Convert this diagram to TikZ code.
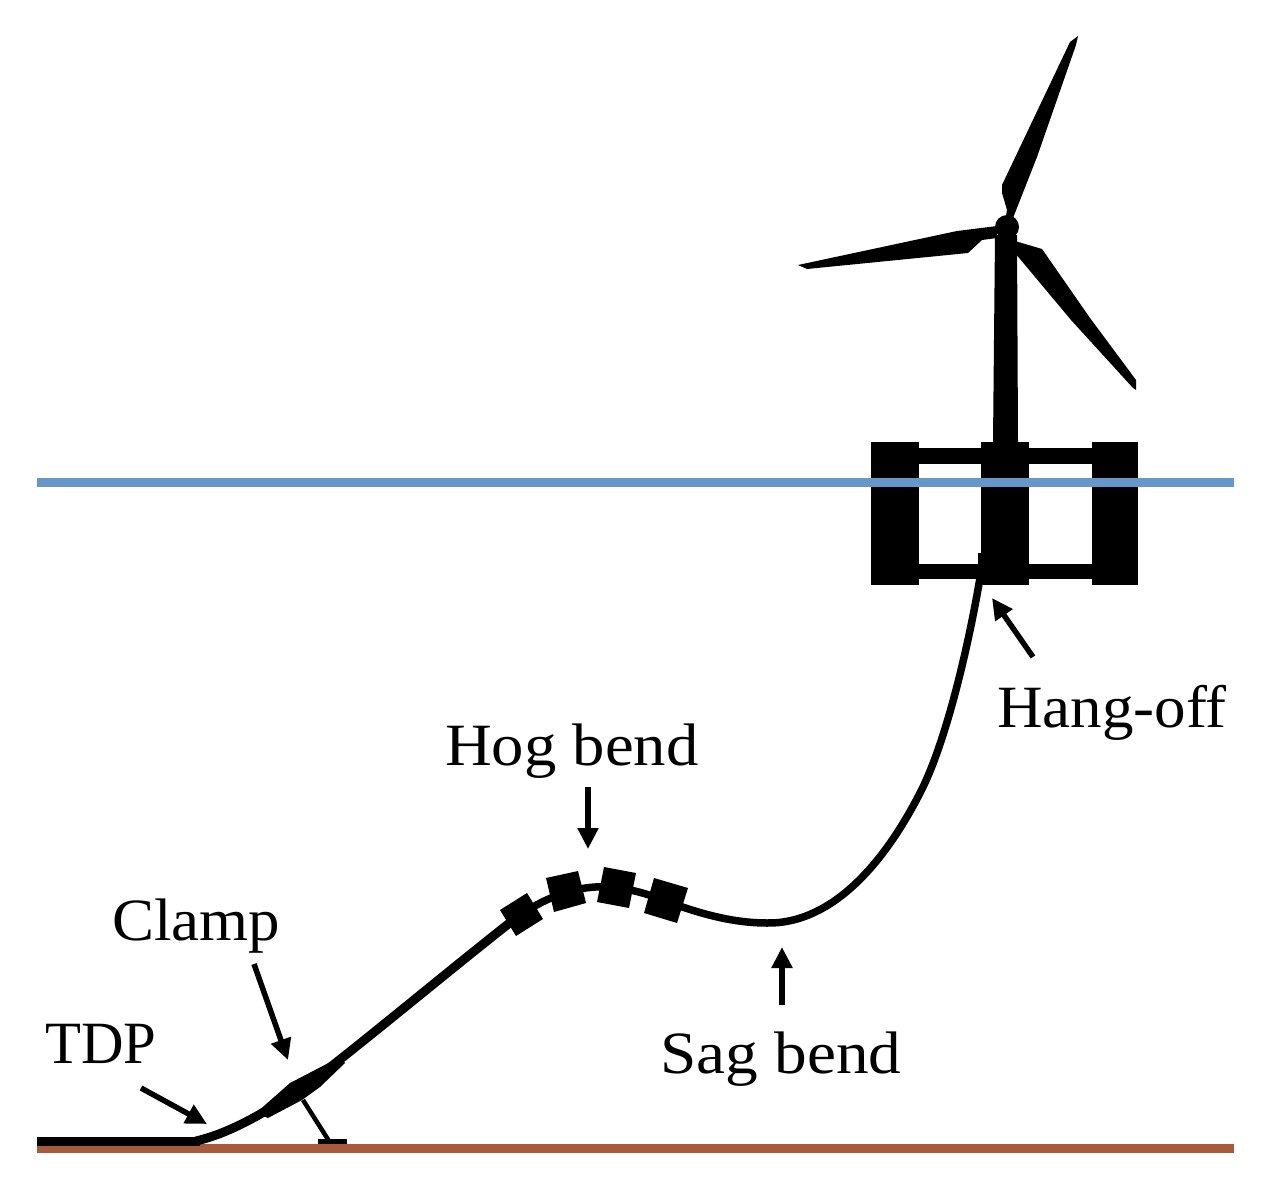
\documentclass[tikz,border=0pt]{standalone}
\usepackage{fontspec}
\setmainfont[FakeStretch=1.05]{Liberation Serif}
\newfontfamily\widelabel[FakeStretch=1.078]{Liberation Serif}
\newfontfamily\widerlabel[FakeStretch=1.088]{Liberation Serif}
\newfontfamily\narrowlabel[FakeStretch=0.98]{Liberation Serif}
\usetikzlibrary{arrows.meta}
\definecolor{waterblue}{HTML}{6797C9}
\definecolor{seabed}{HTML}{A85B3A}
\tikzset{
  solidshape/.style={fill=black,draw=none},
  calllabel/.style={anchor=base west,inner sep=0pt,font=\fontsize{60}{60}\selectfont},
  callout/.style={line width=5.5pt,-{Triangle[length=21pt,width=20pt]},shorten >=0pt},
  cablepart/.style={line cap=round,line join=round,draw=black}
}
\begin{document}
\begin{tikzpicture}[x=1pt,y=-1pt]
\useasboundingbox (0,0) rectangle (1277,1198);
% seabed
\fill[seabed] (37,1144) rectangle (1234,1153);
% tower
\fill[solidshape] (995,235) -- (1017,235) -- (1018,442) -- (993,442) -- cycle;
% blades and hub
\fill[solidshape] (1007,227) circle (12);
\fill[solidshape] (1078,36) -- (1070,42) -- (1002,185) -- (1002,193) -- (1007,210) -- (1005,222) -- (1013,218) -- (1037,157) -- (1076,45) -- cycle;
\fill[solidshape] (798,265) -- (807,269) -- (968,253) -- (982,240) -- (997,238) -- (997,226) -- (957,231) -- cycle;
\fill[solidshape] (1015,241) -- (1042,249) -- (1090,318) -- (1136,380) -- (1136,390) -- (1133,388) -- (1071,320) -- (1015,253) -- cycle;
% floater
\fill[solidshape] (871,442) rectangle (919,585);
\fill[solidshape] (981,442) rectangle (1029,585);
\fill[solidshape] (1092,442) rectangle (1138,585);
\fill[solidshape] (919,448) rectangle (1092,464);
\fill[solidshape] (919,564) rectangle (1092,579);
% water line
\fill[waterblue] (37,478) rectangle (1234,487);
% cable
\fill[solidshape] (37,1137) rectangle (200,1146);
\draw[cablepart,line width=9pt] (196,1141) .. controls (235,1132) and (280,1105) .. (333,1065)
  .. controls (390,1020) and (450,970) .. (507,925) -- (520,915);
\draw[cablepart,line width=7.5pt] (520,915) .. controls (550,895) and (580,885) .. (610,887)
  .. controls (630,889) and (645,893) .. (663,900)
  .. controls (695,912) and (730,923) .. (767,923)
  .. controls (825,924) and (878,875) .. (920,793)
  .. controls (945,745) and (968,650) .. (981,572);
\fill[solidshape] (978,553) rectangle (982,575);
% clamp
\fill[solidshape] (256,1113) -- (290,1083) -- (340,1057) -- (345,1063) -- (320,1087) -- (302,1100) -- (268,1118) -- cycle;
% stand
\draw[line width=4.5pt] (303,1100) -- (329,1141);
\fill[solidshape] (318,1139) rectangle (347,1144);
% buoyancy modules
\fill[solidshape] (500,910) -- (527,893) -- (543,919) -- (516,936) -- cycle;
\fill[solidshape] (546,878) -- (578,871) -- (586,903) -- (554,912) -- cycle;
\fill[solidshape] (604,867) -- (636,873) -- (629,908) -- (597,902) -- cycle;
\fill[solidshape] (654,878) -- (688,888) -- (677,923) -- (644,913) -- cycle;
% labels
\node[calllabel] (hang) at (997,727) {Hang-off};
\node[calllabel] (hog) at (445,765) {\widelabel Hog bend};
\node[calllabel] (clamp) at (112,940) {Clamp};
\node[calllabel] (tdp) at (45,1063) {\narrowlabel TDP};
\node[calllabel] (sag) at (660,1073) {\widerlabel Sag bend};
% callout arrows
\coordinate (hangA) at (1033,657); \coordinate (hangB) at (992,598);
\coordinate (hogA) at (588,787);   \coordinate (hogB) at (588,849);
\coordinate (sagA) at (782,1005);  \coordinate (sagB) at (782,947);
\coordinate (clampA) at (254,964); \coordinate (clampB) at (288,1060);
\coordinate (tdpA) at (141,1088);  \coordinate (tdpB) at (207,1124);
\draw[callout] (hangA) -- (hangB);
\draw[callout] (hogA) -- (hogB);
\draw[callout] (sagA) -- (sagB);
\draw[callout] (clampA) -- (clampB);
\draw[callout] (tdpA) -- (tdpB);
\end{tikzpicture}
\end{document}
